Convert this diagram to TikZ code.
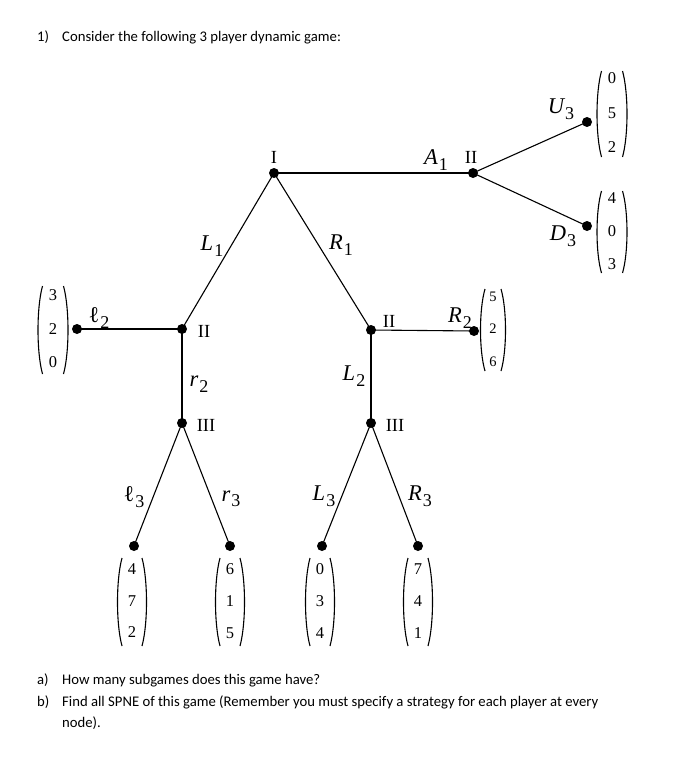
\documentclass[tikz,border=0pt]{standalone}
\usepackage{fontspec}
\setmainfont{Carlito}
\newfontfamily\tms{Liberation Serif}
\newcommand\lab[2]{{\tms\itshape #1}\kern1pt\raisebox{-5.5pt}{\tms\fontsize{18}{18}\selectfont #2}}
% name, x, y (middle), row sep, three numbers, half height of brackets, half width
\newcommand\payvec[9]{%
  \node[num] (#1a) at (#2,{#3-#4}) {#5};
  \node[num] (#1b) at (#2,#3) {#6};
  \node[num] (#1c) at (#2,{#3+#4}) {#7};
  \draw[paren] ({#2-#9+3.5},{#3+1-#8}) .. controls ({#2-#9-2.5},{#3+1-0.5*#8}) and ({#2-#9-2.5},{#3+1+0.5*#8}) .. ({#2-#9+3.5},{#3+1+#8});
  \draw[paren] ({#2+#9-3.5},{#3+1-#8}) .. controls ({#2+#9+2.5},{#3+1-0.5*#8}) and ({#2+#9+2.5},{#3+1+0.5*#8}) .. ({#2+#9-3.5},{#3+1+#8});
}
\begin{document}
\begin{tikzpicture}[x=1pt,y=-1pt,
  dot/.style={circle,fill=black,inner sep=0pt,minimum size=10pt},
  edge/.style={line width=1.1pt},
  paren/.style={line width=1.1pt},
  pl/.style={font=\tms\fontsize{18.5}{20}\selectfont, inner sep=0pt},
  lb/.style={font=\fontsize{22.5}{24}\selectfont, inner sep=0pt},
  q/.style={font=\fontsize{14.7}{17}\selectfont, anchor=base west, inner sep=0pt},
  num/.style={font=\tms\fontsize{16.5}{18}\selectfont, inner sep=0pt},
  smallnum/.style={num/.append style={font=\tms\fontsize{14.5}{16}\selectfont}}]
\useasboundingbox (0,0) rectangle (687,757);

% questions
\node[q] (q1n) at (37,42) {1)};
\node[q] (q1t) at (62,42) {Consider the following 3 player dynamic game:};
\node[q] (qan) at (37,684) {a)};
\node[q] (qat) at (62,684) {How many subgames does this game have?};
\node[q] (qbn) at (37,706) {b)};
\node[q] (qbt) at (62,706) {Find all SPNE of this game (Remember you must specify a strategy for each player at every};
\node[q] (qbt2) at (62,727) {node).};

% decision nodes and terminal nodes
\node[dot] (I) at (274,173) {};
\node[dot] (IIa) at (473,173) {};
\node[dot] (U) at (587,122) {};
\node[dot] (D) at (587,226) {};
\node[dot] (IIl) at (182,329) {};
\node[dot] (l2) at (77,329) {};
\node[dot] (IIIl) at (182,423) {};
\node[dot] (IIr) at (371,330) {};
\node[dot] (R2) at (474,331) {};
\node[dot] (IIIr) at (371,423) {};
\node[dot] (ta) at (134,546) {};
\node[dot] (tb) at (230,546) {};
\node[dot] (tc) at (322,546) {};
\node[dot] (td) at (418,546) {};

% edges
\draw[edge] (I.center) -- (IIa.center);
\draw[edge] (IIa.center) -- (U.center);
\draw[edge] (IIa.center) -- (D.center);
\draw[edge] (I.center) -- (IIl.center);
\draw[edge] (IIl.center) -- (l2.center);
\draw[edge] (IIl.center) -- (IIIl.center);
\draw[edge] (I.center) -- (IIr.center);
\draw[edge] (IIr.center) -- (R2.center);
\draw[edge] (IIr.center) -- (IIIr.center);
\draw[edge] (IIIl.center) -- (ta.center);
\draw[edge] (IIIl.center) -- (tb.center);
\draw[edge] (IIIr.center) -- (tc.center);
\draw[edge] (IIIr.center) -- (td.center);

% player labels
\node[pl] (pI) at (274,157) {I};
\node[pl] (pIIa) at (471,157) {II};
\node[pl] (pIIl) at (204,331) {II};
\node[pl] (pIIIl) at (206,425) {III};
\node[pl] (pIIr) at (389,321) {II};
\node[pl] (pIIIr) at (395,425) {III};

% action labels
\node[lb] (lA1) at (436,160) {\lab{A}{1}};
\node[lb] (lU3) at (561,109) {\lab{U}{3}};
\node[lb] (lD3) at (563,236) {\lab{D}{3}};
\node[lb] (lL1) at (212,246) {\lab{L}{1}};
\node[lb] (lR1) at (341,245) {\lab{R}{1}};
\node[lb] (ll2) at (99,318) {\lab{\textup{ℓ}}{2}};
\node[lb] (lr2) at (199,384) {\lab{r}{2}};
\node[lb] (lR2) at (460,318) {\lab{R}{2}};
\node[lb] (lL2) at (354,376) {\lab{L}{2}};
\node[lb] (ll3) at (134,497) {\lab{\textup{ℓ}}{3}};
\node[lb] (lr3) at (231,499) {\lab{r}{3}};
\node[lb] (lL3) at (324,496) {\lab{L}{3}};
\node[lb] (lR3) at (420,496) {\lab{R}{3}};

% payoff vectors
\payvec{vU}{612}{113}{34.5}{0}{5}{2}{43}{14}
\payvec{vD}{612}{231}{33}{4}{0}{3}{41}{14}
\payvec{vl}{53}{329}{33.5}{3}{2}{0}{44}{14}
\begin{scope}[smallnum]
\payvec{vR}{493}{329}{32.5}{5}{2}{6}{41}{11.5}
\end{scope}
\payvec{va}{132}{601}{31.5}{4}{7}{2}{44}{13.5}
\payvec{vb}{230}{601}{32}{6}{1}{5}{44}{13.5}
\payvec{vc}{320}{601}{32}{0}{3}{4}{44}{13.5}
\payvec{vd}{418}{601}{32}{7}{4}{1}{44}{13.5}
\end{tikzpicture}
\end{document}
